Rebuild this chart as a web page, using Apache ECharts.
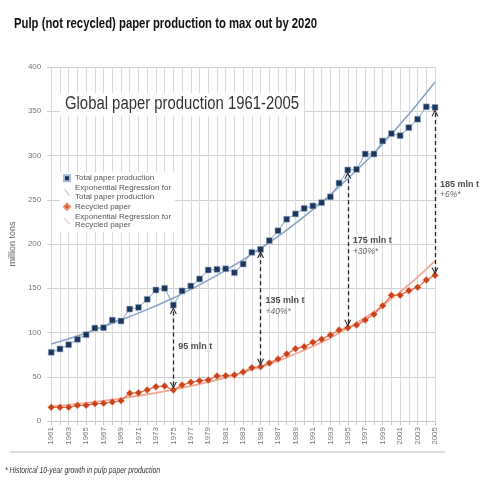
<!DOCTYPE html>
<html>
<head>
<meta charset="utf-8">
<script src="https://cdn.jsdelivr.net/npm/echarts@6/dist/echarts.min.js"></script>
<style>
html,body{margin:0;padding:0;background:#fff;}
#chart{width:480px;height:480px;}
</style>
</head>
<body>
<div id="chart"></div>
<script>
// ---------- DATA ----------
const years = ['1961','1962','1963','1964','1965','1966','1967','1968','1969','1970',
  '1971','1972','1973','1974','1975','1976','1977','1978','1979','1980',
  '1981','1982','1983','1984','1985','1986','1987','1988','1989','1990',
  '1991','1992','1993','1994','1995','1996','1997','1998','1999','2000',
  '2001','2002','2003','2004','2005'];
const totalPaper = [77.6,81.4,86.2,92.3,97.5,105,105.4,114,113,126.5,
  128.4,137.5,148,150,131,147,152.5,160.5,170.6,171.4,
  172,167.6,177.4,190.6,194,203.8,215,228,234,240.3,
  243,246.7,253.3,268.8,283.6,284.4,301.7,301.7,316.4,324.7,
  322.4,331.5,341,355,354.4];
const recycledPaper = [15.5,15.5,15.5,17.7,17.7,19.6,20,21.5,23,31.3,
  32,35,38.8,39.5,35,40.7,43.7,45.5,46.3,50.8,
  51.2,52,55.4,60.3,61.4,65.5,70,75.7,81.7,84,
  89,92.3,97.2,102.8,105.4,108.5,114,120.5,130.3,142,
  142,147.2,151,159.3,164.6];
const trendYears = ['1961','1965','1970','1975','1980','1985','1990','1995','2000','2005'];
const totalTrend = [87,99.5,118,139,164.5,195,231,274,324,383];
const recycledTrend = [16.5,20.5,27,35.5,46.5,61,80,105,138,181];
const annotYears = ['1975','1985','1995','2005'];
const annotMain = ['95 mln t','135 mln t','175 mln t','185 mln t'];
const annotSub = ['','+40%*','+30%*','+6%*'];
const yTicks = {min:0, max:400, interval:50};
const titleText = 'Pulp (not recycled) paper production to max out by 2020';
const innerTitle = 'Global paper production 1961-2005';
const footnote = '* Historical 10-year growth in pulp paper production';
const seriesNames = ['Total paper production','Exponential Regression for\nTotal paper production','Recycled paper','Exponential Regression for\nRecycled paper'];

// ---------- STYLE / LAYOUT ----------
const NARROW = "'Liberation Sans Narrow','Liberation Sans',sans-serif";
const annotLabelY = [84,130,198,261.5];
function fitScale(text, font, w){
  const c = document.createElement('canvas').getContext('2d');
  c.font = font;
  return w / c.measureText(text).width;
}
const titleFont = "bold 15px 'Liberation Sans Narrow','Liberation Sans'";
const innerFont = "18px 'Liberation Sans Narrow','Liberation Sans'";
const footFont = "italic 9px 'Liberation Sans Narrow','Liberation Sans'";

const chevron = 'path://M0,10 L5,0 L10,10 L8.4,10 L5,3.4 L1.6,10 Z';
const diag = 'path://M0,0 L1.6,0 L10,10 L8.4,10 Z';

const chart = echarts.init(document.getElementById('chart'), null, {renderer:'canvas'});
const arrowData = annotYears.map(y => {
  const i = years.indexOf(y);
  return [{coord:[y, recycledPaper[i] + 5]}, {coord:[y, totalPaper[i] - 6]}];
});

chart.setOption({
  animation:false,
  backgroundColor:'#fff',
  grid:{left:49, right:45, top:67, bottom:59, containLabel:false},
  legend:{
    orient:'vertical', left:60, top:172,
    itemWidth:6, itemHeight:6, itemGap:1.5,
    backgroundColor:'#fff', padding:[2,4,3,3],
    textStyle:{fontSize:8, color:'#555', fontFamily:NARROW, lineHeight:8.5},
    data:[
      {name:seriesNames[0], icon:'rect'},
      {name:seriesNames[1], icon:diag, itemStyle:{color:'#8eaacb'}},
      {name:seriesNames[2], icon:'diamond'},
      {name:seriesNames[3], icon:diag, itemStyle:{color:'#f4a896'}}
    ]
  },
  xAxis:{
    type:'category', data:years, boundaryGap:false,
    axisLine:{lineStyle:{color:'#c8c8c8'}},
    axisTick:{show:true, length:4, interval:0, lineStyle:{color:'#c8c8c8'}},
    axisLabel:{rotate:90, interval:1, fontSize:8, color:'#777', margin:6, fontFamily:NARROW},
    splitLine:{show:true, interval:0, lineStyle:{color:'#d9d9d9', width:1}}
  },
  yAxis:{
    type:'value', min:yTicks.min, max:yTicks.max, interval:yTicks.interval,
    name:'million tons', nameLocation:'middle', nameGap:25, nameRotate:90,
    nameTextStyle:{fontSize:9, color:'#666', fontFamily:NARROW},
    axisLine:{show:false},
    axisTick:{show:true, length:4, lineStyle:{color:'#c8c8c8'}},
    axisLabel:{fontSize:8, color:'#777', margin:10, fontFamily:NARROW},
    splitLine:{lineStyle:{color:'#d0d0d0', width:1}}
  },
  series:[
    {
      name:seriesNames[1], type:'line', smooth:true, symbol:'none', z:2,
      data:trendYears.map((y,i)=>[y,totalTrend[i]]),
      lineStyle:{color:'#86a3c6', width:1.5}, itemStyle:{color:'#86a3c6'}
    },
    {
      name:seriesNames[3], type:'line', smooth:true, symbol:'none', z:2,
      data:trendYears.map((y,i)=>[y,recycledTrend[i]]),
      lineStyle:{color:'#f4a896', width:1.8}, itemStyle:{color:'#f4a896'}
    },
    {
      name:seriesNames[0], type:'line', data:totalPaper, z:3,
      symbol:'rect', symbolSize:6, showAllSymbol:true,
      lineStyle:{color:'#7f9fc2', width:1},
      itemStyle:{color:'#1b365d', borderColor:'#a9bdd2', borderWidth:0.6}
    },
    {
      name:seriesNames[2], type:'line', data:recycledPaper, z:3,
      symbol:'diamond', symbolSize:7, showAllSymbol:true,
      lineStyle:{color:'#e2643e', width:1.2},
      itemStyle:{color:'#c8421c', borderColor:'#ef8a66', borderWidth:0.5}
    },
    {
      name:'annotations', type:'scatter', symbolSize:0, z:5, silent:true,
      data:annotYears.map((y,i)=>[y, annotLabelY[i]]),
      label:{
        show:true, position:'right', distance:5,
        formatter:p => annotSub[p.dataIndex] ? '{m|'+annotMain[p.dataIndex]+'}\n{s|'+annotSub[p.dataIndex]+'}' : '{m|'+annotMain[p.dataIndex]+'}',
        rich:{
          m:{fontWeight:'bold', fontSize:9, color:'#222', fontFamily:NARROW, lineHeight:11},
          s:{fontStyle:'italic', fontSize:8.5, color:'#444', fontFamily:NARROW, lineHeight:11}
        }
      },
      markLine:{
        silent:true, symbol:[chevron, chevron], symbolSize:7,
        label:{show:false},
        lineStyle:{color:'#222', type:[4,3], width:1.3},
        data:arrowData
      }
    }
  ],
  graphic:[
    {type:'text', x:14, y:24, z:100, scaleX:fitScale(titleText, titleFont, 303),
      style:{text:titleText, font:titleFont, fill:'#111', verticalAlign:'middle'}},
    {type:'rect', z:90, shape:{x:60, y:93, width:244, height:23}, style:{fill:'#fff'}},
    {type:'text', x:65, y:104, z:100, scaleX:fitScale(innerTitle, innerFont, 234),
      style:{text:innerTitle, font:innerFont, fill:'#333', verticalAlign:'middle'}},
    {type:'line', z:100, shape:{x1:10, y1:452, x2:445, y2:452}, style:{stroke:'#bbb', lineWidth:1}},
    {type:'text', x:5, y:470, z:100, scaleX:fitScale(footnote, footFont, 155),
      style:{text:footnote, font:footFont, fill:'#333', verticalAlign:'middle'}}
  ]
});
</script>
</body>
</html>
